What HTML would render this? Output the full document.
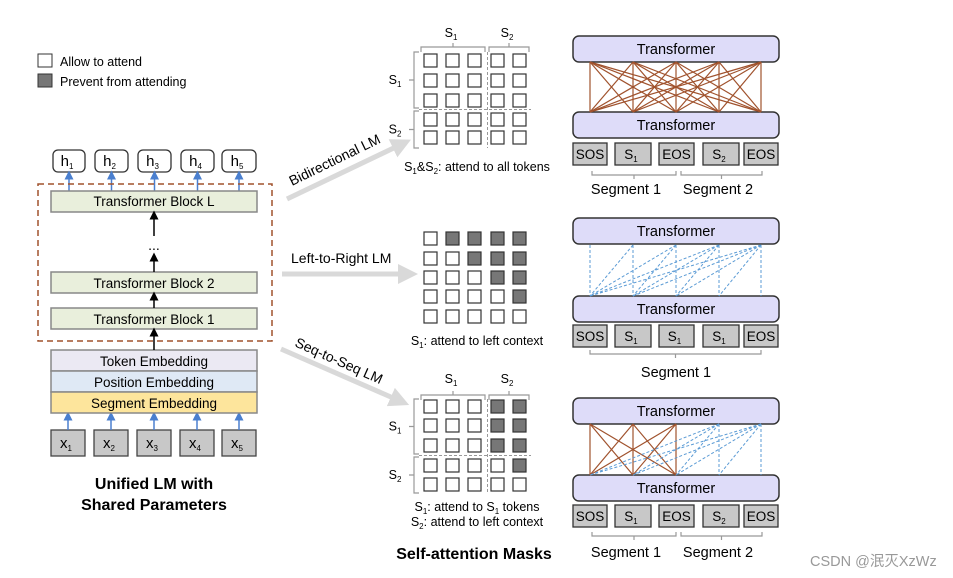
<!DOCTYPE html>
<html><head><meta charset="utf-8"><style>
html,body{margin:0;padding:0;background:#fff;}
svg{display:block;font-family:"Liberation Sans","Noto Sans CJK SC",sans-serif;}
</style></head><body>
<svg id="s" width="953" height="578" viewBox="0 0 953 578" xmlns="http://www.w3.org/2000/svg">
<defs>
<marker id="ab" markerWidth="6" markerHeight="6" refX="3" refY="3" orient="auto"><path d="M0,0 L6,3 L0,6 z" fill="#4a7fcf"/></marker>
<marker id="ak" markerWidth="6" markerHeight="6" refX="3" refY="3" orient="auto"><path d="M0,0 L6,3 L0,6 z" fill="#000"/></marker>
<marker id="ag" markerWidth="4" markerHeight="4" refX="2" refY="2" orient="auto"><path d="M0,0 L4,2 L0,4 z" fill="#d9d9d9"/></marker>
</defs>
<g id="g"></g>
<rect x="38" y="54" width="14" height="13" fill="#fff" stroke="#333"/>
<rect x="38" y="74" width="14" height="13" fill="#777" stroke="#333"/>
<text x="60" y="66" font-size="12.5">Allow to attend</text>
<text x="60" y="86" font-size="12.5">Prevent from attending</text>
<rect x="38" y="184" width="234" height="157" fill="none" stroke="#a0522d" stroke-width="1.5" stroke-dasharray="6,4"/>
<g fill="#e9efdc" stroke="#888" stroke-width="1.5">
<rect x="51" y="191" width="206" height="21"/><rect x="51" y="272" width="206" height="21"/><rect x="51" y="308" width="206" height="21"/></g>
<rect x="51" y="350" width="206" height="21" fill="#ebe9f3" stroke="#888" stroke-width="1.5"/>
<rect x="51" y="371" width="206" height="21" fill="#dfe9f5" stroke="#888" stroke-width="1.5"/>
<rect x="51" y="392" width="206" height="21" fill="#fde59c" stroke="#888" stroke-width="1.5"/>
<g font-size="13.5" text-anchor="middle">
<text x="154" y="206">Transformer Block L</text>
<text x="154" y="288">Transformer Block 2</text>
<text x="154" y="324">Transformer Block 1</text>
<text x="154" y="366">Token Embedding</text>
<text x="154" y="387">Position Embedding</text>
<text x="154" y="408">Segment Embedding</text>
<text x="154" y="250" font-size="14">...</text>
</g>
<g stroke="#000" stroke-width="1.5" marker-end="url(#ak)">
<line x1="154" y1="350" x2="154" y2="332"/><line x1="154" y1="308" x2="154" y2="296"/>
<line x1="154" y1="272" x2="154" y2="257"/><line x1="154" y1="236" x2="154" y2="215"/></g>
<g font-size="16" text-anchor="middle" font-weight="bold"><text x="154" y="489">Unified LM with</text><text x="154" y="510">Shared Parameters</text><text x="474" y="559">Self-attention Masks</text></g>
<g stroke="#d9d9d9" stroke-width="5" marker-end="url(#ag)">
<line x1="287" y1="199" x2="402" y2="144"/><line x1="282" y1="274" x2="408" y2="274"/><line x1="281" y1="349" x2="400" y2="401"/></g>
<text font-size="14" transform="translate(292,186) rotate(-26)">Bidirectional LM</text>
<text font-size="14" x="291" y="263">Left-to-Right LM</text>
<text font-size="14" transform="translate(294,346) rotate(24)">Seq-to-Seq LM</text>
<g font-size="12.5" text-anchor="middle">
<text x="477" y="171">S<tspan font-size="8" dy="3">1</tspan><tspan dy="-3">&amp;S</tspan><tspan font-size="8" dy="3">2</tspan><tspan dy="-3">: attend to all tokens</tspan></text>
<text x="477" y="345">S<tspan font-size="8" dy="3">1</tspan><tspan dy="-3">: attend to left context</tspan></text>
<text x="477" y="511">S<tspan font-size="8" dy="3">1</tspan><tspan dy="-3">: attend to S</tspan><tspan font-size="8" dy="3">1</tspan><tspan dy="-3"> tokens</tspan></text>
<text x="477" y="526">S<tspan font-size="8" dy="3">2</tspan><tspan dy="-3">: attend to left context</tspan></text>
</g>
<g font-size="14.5" text-anchor="middle">
<text x="626" y="194">Segment 1</text><text x="718" y="194">Segment 2</text>
<text x="676" y="377">Segment 1</text>
<text x="626" y="557">Segment 1</text><text x="718" y="557">Segment 2</text>
</g>
<text x="810" y="566" font-size="14.5" fill="#999">CSDN @泯灭XzWz</text>
</svg>
<script>
var g=document.getElementById('g'),NS='http://www.w3.org/2000/svg';
function el(t,a,txt){var e=document.createElementNS(NS,t);for(var k in a)e.setAttribute(k,a[k]);if(txt!=null)e.innerHTML=txt;g.appendChild(e);return e;}
var sub=function(b,n){return b+'<tspan font-size="8" dy="3">'+n+'</tspan>';};
var hx=[[53,85],[95,128],[138,171],[181,214],[222,256]];
hx.forEach(function(p,i){var c=(p[0]+p[1])/2;
el('rect',{x:p[0],y:150,width:p[1]-p[0],height:22,rx:5,fill:'#fff',stroke:'#333','stroke-width':1.3});
el('text',{x:c-2,y:166,'font-size':15,'text-anchor':'middle'},sub('h',i+1));
el('line',{x1:c,y1:191,x2:c,y2:175,stroke:'#4a7fcf','stroke-width':1.5,'marker-end':'url(#ab)'});});
var xx=[[51,85],[94,128],[137,171],[180,214],[222,256]];
xx.forEach(function(p,i){var c=(p[0]+p[1])/2;
el('rect',{x:p[0],y:430,width:p[1]-p[0],height:26,fill:'#c8c8c8',stroke:'#444','stroke-width':1.3});
el('text',{x:c-2,y:448,'font-size':15,'text-anchor':'middle'},sub('x',i+1));
el('line',{x1:c,y1:430,x2:c,y2:416,stroke:'#4a7fcf','stroke-width':1.5,'marker-end':'url(#ab)'});});
var cx=[424,446,468,491,513];
function grid(rows,gray){rows.forEach(function(y,r){cx.forEach(function(x,c){
el('rect',{x:x,y:y,width:13,height:13,fill:gray(r,c)?'#777':'#fff',stroke:'#333','stroke-width':1.2});});});}
grid([54,74,94,113,131],function(){return false;});
grid([232,252,271,290,310],function(r,c){return c>r;});
grid([400,419,439,459,478],function(r,c){return (r<3&&c>2)||(r==3&&c==4);});
function brk(y0,ylab){
el('path',{d:'M421,'+(y0+5)+' V'+y0+' H485 V'+(y0+5)+' M453,'+y0+' V'+(y0-4),fill:'none',stroke:'#999','stroke-width':1.2});
el('path',{d:'M489,'+(y0+5)+' V'+y0+' H529 V'+(y0+5)+' M509,'+y0+' V'+(y0-4),fill:'none',stroke:'#999','stroke-width':1.2});
el('text',{x:451,y:ylab,'font-size':12.5,'text-anchor':'middle'},sub('S',1));
el('text',{x:507,y:ylab,'font-size':12.5,'text-anchor':'middle'},sub('S',2));}
function lbrk(y0,y1,y2,y3,dy){
el('path',{d:'M419,'+y0+' H414 V'+y1+' H419 M414,'+((y0+y1)/2)+' H409',fill:'none',stroke:'#999','stroke-width':1.2});
el('path',{d:'M419,'+y2+' H414 V'+y3+' H419 M414,'+((y2+y3)/2)+' H409',fill:'none',stroke:'#999','stroke-width':1.2});
el('text',{x:395,y:(y0+y1)/2+4,'font-size':12.5,'text-anchor':'middle'},sub('S',1));
el('text',{x:395,y:(y2+y3)/2+4,'font-size':12.5,'text-anchor':'middle'},sub('S',2));
el('line',{x1:487.5,y1:y0,x2:487.5,y2:y3,stroke:'#999','stroke-dasharray':'3,2'});
el('line',{x1:419,y1:dy,x2:531,y2:dy,stroke:'#999','stroke-dasharray':'3,2'});}
brk(47,37); lbrk(52,108,111,148,109.5);
brk(395,383); lbrk(399,454,457,493,455.5);
var lx=[590,633,676,719,761];
function panel(t1,t2,tok,labs){
[t1,t2].forEach(function(y){el('rect',{x:573,y:y,width:206,height:26,rx:6,fill:'#dedcf9',stroke:'#333','stroke-width':1.5});
el('text',{x:676,y:y+18,'font-size':14.5,'text-anchor':'middle'},'Transformer');});
var tx=[[573,607],[615,651],[659,694],[703,739],[744,778]];
tx.forEach(function(p,i){el('rect',{x:p[0],y:tok,width:p[1]-p[0],height:22,fill:'#c8c8c8',stroke:'#333','stroke-width':1.3});
var l=labs[i];el('text',{x:(p[0]+p[1])/2-(l.length==2?2:0),y:tok+16,'font-size':13.5,'text-anchor':'middle'},l.length==2?sub(l[0],l[1]):l);});}
function br(x0,x1,y){el('path',{d:'M'+x0+','+y+' v4 H'+x1+' v-4 M'+((x0+x1)/2)+','+(y+4)+' v4',fill:'none',stroke:'#999','stroke-width':1.2});}
panel(36,112,143,['SOS','S1','EOS','S2','EOS']);
for(var i=0;i<5;i++)for(var j=0;j<5;j++)el('line',{x1:lx[i],y1:62,x2:lx[j],y2:112,stroke:'#a0522d','stroke-width':1.2});
br(592,676,171);br(681,762,171);
panel(218,296,325,['SOS','S1','S1','S1','EOS']);
for(var i=0;i<5;i++)for(var j=0;j<=i;j++)el('line',{x1:lx[i],y1:245,x2:lx[j],y2:296,stroke:'#5b9bd5','stroke-width':1,'stroke-dasharray':'3,2'});
br(590,761,350);
panel(398,475,505,['SOS','S1','EOS','S2','EOS']);
for(var i=0;i<3;i++)for(var j=0;j<3;j++)el('line',{x1:lx[i],y1:424,x2:lx[j],y2:475,stroke:'#a0522d','stroke-width':1.2});
for(var i=3;i<5;i++)for(var j=0;j<=i;j++)el('line',{x1:lx[i],y1:424,x2:lx[j],y2:475,stroke:'#5b9bd5','stroke-width':1,'stroke-dasharray':'3,2'});
br(592,676,532);br(681,762,532);
</script>
</body></html>
